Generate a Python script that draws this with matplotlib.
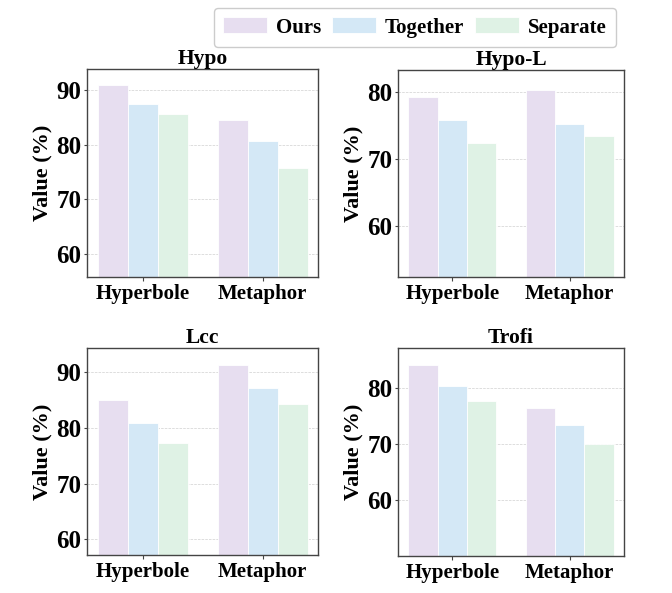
import matplotlib
matplotlib.use("Agg")
import matplotlib.pyplot as plt
import numpy as np

categories = ["Hyperbole", "Metaphor"]
methods = ["Ours", "Together", "Separate"]
datasets = ["Hypo", "Hypo-L", "Lcc", "Trofi"]

hypo = {"Ours": [90.8, 84.5], "Together": [87.4, 80.7], "Separate": [85.6, 75.8]}
hypo_l = {"Ours": [79.3, 80.3], "Together": [75.8, 75.3], "Separate": [72.4, 73.4]}
lcc = {"Ours": [84.9, 91.3], "Together": [80.9, 87.2], "Separate": [77.2, 84.3]}
trofi = {"Ours": [84.2, 76.5], "Together": [80.5, 73.5], "Separate": [77.7, 70.1]}
values = [hypo, hypo_l, lcc, trofi]

COL = {"Ours": "#E7DEF0", "Together": "#D4E8F6", "Separate": "#DFF2E5"}

plt.rcParams.update({
    "font.family": "Liberation Serif",
    "font.weight": "bold",
    "axes.labelweight": "bold",
    "axes.titleweight": "bold",
})

W, H = 672, 593
fig = plt.figure(figsize=(W / 100, H / 100), dpi=100)

# axes boxes in pixels: left, top, right, bottom
boxes = [(87, 69, 318, 277), (398, 70, 624, 277),
         (87, 348, 318, 555), (398, 348, 624, 556)]

x = np.arange(len(categories))
bw = 0.25
for name, d, (l, t, r, b) in zip(datasets, values, boxes):
    ax = fig.add_axes([l / W, 1 - b / H, (r - l) / W, (b - t) / H])
    for i, m in enumerate(methods):
        ax.bar(x + (i - 1) * bw, d[m], bw, color=COL[m], edgecolor="white",
               linewidth=0.6, label=m, zorder=2)
    allv = [v for m in methods for v in d[m]]
    ax.set_ylim(min(allv) - 20, max(allv) + 3)
    ax.yaxis.set_major_locator(matplotlib.ticker.MultipleLocator(10))
    ax.set_xticks(x)
    ax.set_xticklabels(categories, fontsize=15, fontweight="bold")
    for lab in ax.get_yticklabels():
        lab.set_fontsize(18)
        lab.set_fontweight("bold")
    ax.set_ylabel("Value (%)", fontsize=16, fontweight="bold", labelpad=3)
    ax.set_title(name, fontsize=15.5, fontweight="bold", pad=3)
    ax.grid(axis="y", linestyle="--", linewidth=0.5, color="#c4c4c4", alpha=0.8, zorder=0)
    ax.set_axisbelow(True)
    for s in ax.spines.values():
        s.set_color("#444444")
        s.set_linewidth(1.0)
    ax.tick_params(axis="x", length=3, width=0.8, color="#444444", pad=2)
    ax.tick_params(axis="y", length=2, width=0.8, color="#444444", pad=2)

handles, labels = ax.get_legend_handles_labels()
fig.legend(handles, labels, loc="upper right", bbox_to_anchor=(616 / W, 1 - 8 / H),
           ncol=3, prop={"weight": "bold", "size": 15, "family": "Liberation Serif"},
           handlelength=2.1, handleheight=0.8, columnspacing=0.5, handletextpad=0.45,
           frameon=True, edgecolor="#cccccc", framealpha=1.0, borderpad=0.45,
           borderaxespad=0)

fig.savefig("out.png", dpi=100)
